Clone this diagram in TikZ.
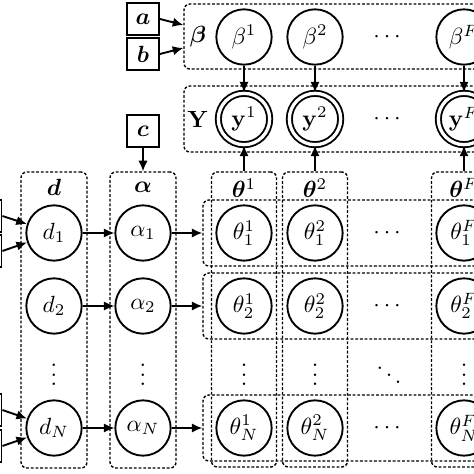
\documentclass[tikz,border=0pt]{standalone}
\usepackage{amsmath,bm}
\usetikzlibrary{arrows.meta}

\def\pxu{0.015cm}
\tikzset{
  var/.style={circle, draw, line width=0.8pt, minimum size=0.83cm, inner sep=0pt},
  obs/.style={var, double, double distance=1.4pt, minimum size=0.77cm},
  hyper/.style={rectangle, draw, line width=0.8pt, minimum size=0.48cm, inner sep=0pt},
  plate/.style={draw, rounded corners=2.5pt, line width=0.6pt, dash pattern=on 1.2pt off 0.8pt, inner sep=0pt},
  edge/.style={-{Latex[length=4.5pt,width=4pt]}, line width=0.8pt}
}

\begin{document}
\begin{tikzpicture}[x=\pxu, y=-\pxu]
  \useasboundingbox (0,0) rectangle (474,474);

  % hyperparameter boxes
  \node[hyper] (a) at (143,19) {$\bm{a}$};
  \node[hyper] (b) at (143,54) {$\bm{b}$};
  \node[hyper] (c) at (143,131) {$\bm{c}$};
  % boxes cut off at the left border
  \foreach \y/\n in {216/1, 251/2, 410/3, 446/4}
    \node[hyper] (u\n) at (-14.5,\y) {};

  % plates
  \node[plate, minimum width=346*\pxu, minimum height=65*\pxu] (pbeta) at (357,36.5) {};
  \node[plate, minimum width=346*\pxu, minimum height=66*\pxu] (pY) at (357,119) {};
  \node[plate, minimum width=66*\pxu, minimum height=296*\pxu] (pd) at (54,320) {};
  \node[plate, minimum width=66*\pxu, minimum height=296*\pxu] (palpha) at (143,320) {};
  \foreach \x/\n in {244/1, 315/2, 464/F}
    \node[plate, minimum width=65*\pxu, minimum height=295*\pxu] (pth\n) at (\x,319.5) {};
  \foreach \y/\i in {233/1, 306/2, 428/N}
    \node[plate, minimum width=327*\pxu, minimum height=66*\pxu] (row\i) at (366.5,\y) {};

  % plate labels
  \node (lbeta) at (198,37) {$\bm{\beta}$};
  \node (lY) at (198,119) {$\mathbf{Y}$};
  \node (ld) at (54,187) {$\bm{d}$};
  \node (lalpha) at (143,187) {$\bm{\alpha}$};
  \foreach \x/\n in {244/1, 315/2, 464/F}
    \node (lth\n) at (\x,188) {$\bm{\theta}^{\n}$};

  % feature columns
  \foreach \x/\n in {244/1, 315/2, 464/F} {
    \node[var] (beta\n) at (\x,37) {$\beta^{\n}$};
    \node[obs] (y\n) at (\x,119) {$\mathbf{y}^{\n}$};
    \foreach \y/\i in {233/1, 306/2, 428/N}
      \node[var] (th\i\n) at (\x,\y) {$\theta^{\n}_{\i}$};
    \node (vd\n) at (\x,368) {$\vdots$};
    \draw[edge] (beta\n) -- (y\n);
    \draw[edge] (pth\n.north) -- (y\n);
  }

  % sample rows
  \foreach \y/\i in {233/1, 306/2, 428/N} {
    \node[var] (d\i) at (54,\y) {$d_{\i}$};
    \node[var] (al\i) at (143,\y) {$\alpha_{\i}$};
    \node (hd\i) at (389,\y) {$\cdots$};
    \draw[edge] (d\i) -- (al\i);
    \draw[edge] (al\i) -- (row\i.west);
  }
  \node (vdd) at (54,368) {$\vdots$};
  \node (vdal) at (143,368) {$\vdots$};
  \node (dg) at (389,368) {$\ddots$};
  \node (hbeta) at (389,37) {$\cdots$};
  \node (hy) at (389,119) {$\cdots$};

  % inputs
  \draw[edge] (a.east) -- ([yshift=11.5*\pxu]pbeta.west);
  \draw[edge] (b.east) -- ([yshift=-11.5*\pxu]pbeta.west);
  \draw[edge] (c) -- (palpha.north);
  \draw[edge] (u1.east) -- (d1);
  \draw[edge] (u2.east) -- (d1);
  \draw[edge] (u3.east) -- (dN);
  \draw[edge] (u4.east) -- (dN);
\end{tikzpicture}
\end{document}
